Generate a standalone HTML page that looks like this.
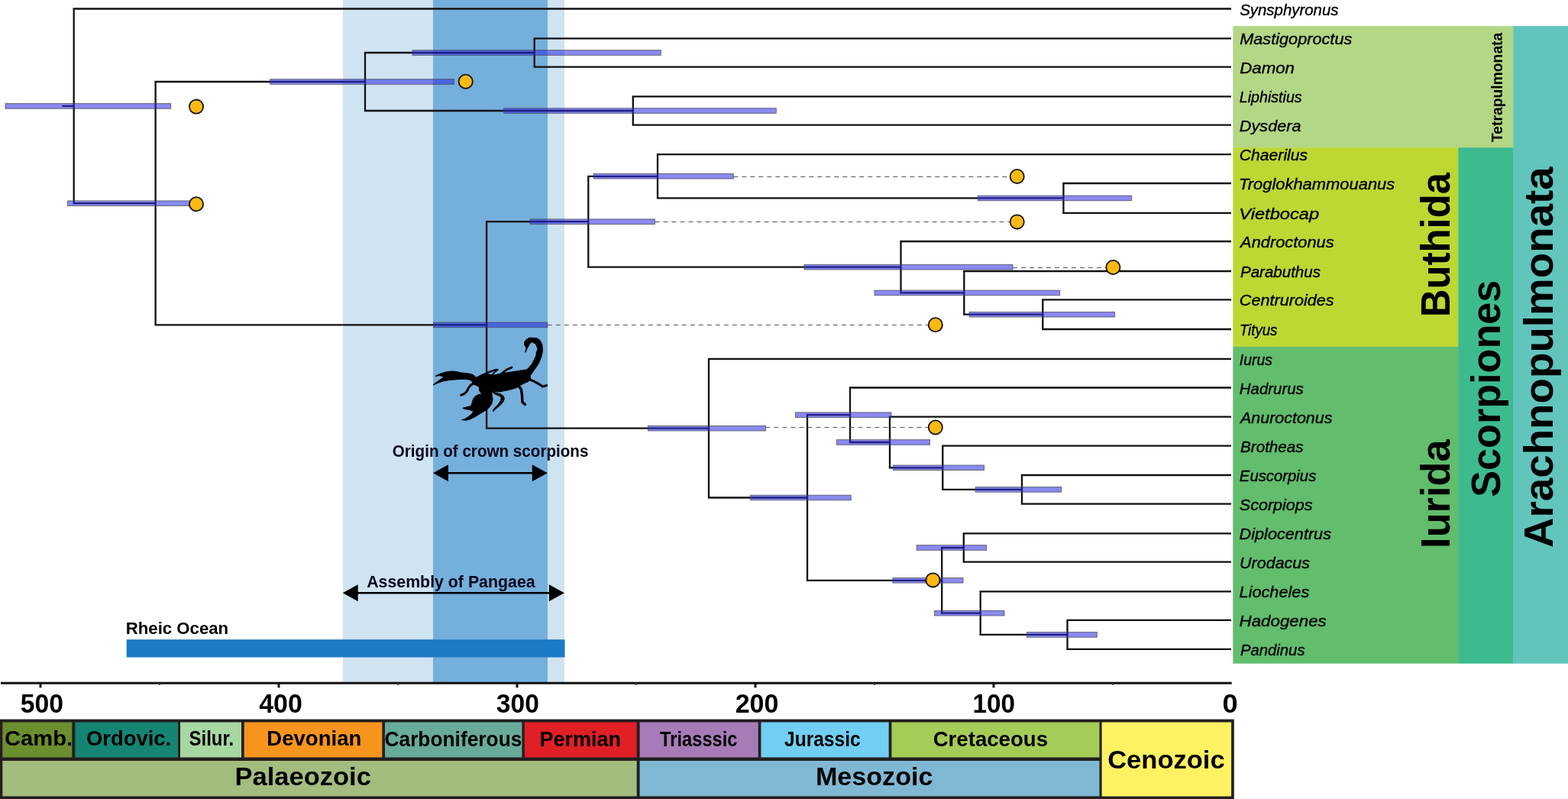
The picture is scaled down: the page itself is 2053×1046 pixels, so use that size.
<!DOCTYPE html><html><head><meta charset="utf-8"><title>Scorpion phylogeny</title><style>html,body{margin:0;padding:0;background:#fff;}body{width:2053px;height:1046px;overflow:hidden;}svg{display:block;}</style></head><body><svg width="2053" height="1046" viewBox="0 0 2053 1046"><rect x="449" y="0" width="290" height="893" fill="#cfe3f1"/><rect x="567" y="0" width="150" height="893" fill="#75afdc"/><rect x="1614.3" y="34.1" width="367.5" height="159.6" fill="#b3d784"/><rect x="1614.3" y="193.2" width="295.6" height="261.2" fill="#bed733"/><rect x="1614.3" y="453.9" width="295.6" height="414.8" fill="#62bd6d"/><rect x="1909.4" y="193.2" width="72.3" height="675.5" fill="#3dbb8f"/><rect x="1981.2" y="34.1" width="71.8" height="834.6" fill="#61c5bc"/><rect x="165.7" y="837.2" width="573.8" height="23.3" fill="#1b7bc7"/><path d="M96.7,11.5V266.2M95.5,11.5H1612.0M95.5,266.2H203.6M203.6,107.0V425.4M202.4,107.0H478.0M202.4,425.4H637.1M478.0,69.0V145.0M476.9,69.0H699.7M476.9,145.0H828.8M699.7,50.3V87.7M698.6,50.3H1612.0M698.6,87.7H1612.0M828.8,126.3V163.7M827.6,126.3H1612.0M827.6,163.7H1612.0M637.1,290.2V560.7M636.0,290.2H770.3M636.0,560.7H928.0M770.3,230.8V349.7M769.1,230.8H861.0M769.1,349.7H1179.5M861.0,202.1V259.4M859.9,202.1H1612.0M859.9,259.4H1392.4M1392.4,240.0V278.8M1391.2,240.0H1612.0M1391.2,278.8H1612.0M1179.5,316.0V383.4M1178.3,316.0H1612.0M1178.3,383.4H1262.3M1262.3,355.0V411.7M1261.1,355.0H1612.0M1261.1,411.7H1365.3M1365.3,392.4V431.0M1364.1,392.4H1612.0M1364.1,431.0H1612.0M928.0,469.8V651.5M926.9,469.8H1612.0M926.9,651.5H1057.0M1057.0,543.2V759.8M1055.8,543.2H1113.0M1055.8,759.8H1233.2M1113.0,507.5V579.0M1111.8,507.5H1612.0M1111.8,579.0H1165.0M1165.0,545.7V612.3M1163.8,545.7H1612.0M1163.8,612.3H1234.3M1234.3,583.7V640.9M1233.1,583.7H1612.0M1233.1,640.9H1338.0M1338.0,622.0V659.7M1336.8,622.0H1612.0M1336.8,659.7H1612.0M1233.2,717.0V802.6M1232.0,717.0H1261.8M1232.0,802.6H1283.7M1261.8,698.3V735.6M1260.6,698.3H1612.0M1260.6,735.6H1612.0M1283.7,774.4V830.9M1282.5,774.4H1612.0M1282.5,830.9H1397.5M1397.5,811.9V849.9M1396.3,811.9H1612.0M1396.3,849.9H1612.0M81.5,138.9H96.7" stroke="#111" stroke-width="2.3" fill="none" stroke-linecap="butt"/><line x1="960.3" y1="231.5" x2="1331.7" y2="231.5" stroke="#555" stroke-width="1" stroke-dasharray="6 5"/><line x1="857.5" y1="290.5" x2="1331.7" y2="290.5" stroke="#555" stroke-width="1" stroke-dasharray="6 5"/><line x1="1326.0" y1="350.5" x2="1457.4" y2="350.5" stroke="#555" stroke-width="1" stroke-dasharray="6 5"/><line x1="716.8" y1="425.5" x2="1224.8" y2="425.5" stroke="#555" stroke-width="1" stroke-dasharray="6 5"/><line x1="1002.4" y1="559.5" x2="1224.8" y2="559.5" stroke="#555" stroke-width="1" stroke-dasharray="6 5"/><rect x="7.0" y="135.6" width="216.6" height="6.6" fill="rgba(40,40,225,0.55)" stroke="rgba(70,70,80,0.8)" stroke-width="0.9"/><rect x="88.4" y="262.9" width="160.0" height="6.6" fill="rgba(40,40,225,0.55)" stroke="rgba(70,70,80,0.8)" stroke-width="0.9"/><rect x="353.6" y="103.7" width="241.0" height="6.6" fill="rgba(40,40,225,0.55)" stroke="rgba(70,70,80,0.8)" stroke-width="0.9"/><rect x="540.0" y="65.7" width="325.3" height="6.6" fill="rgba(40,40,225,0.55)" stroke="rgba(70,70,80,0.8)" stroke-width="0.9"/><rect x="659.5" y="141.7" width="356.8" height="6.6" fill="rgba(40,40,225,0.55)" stroke="rgba(70,70,80,0.8)" stroke-width="0.9"/><rect x="567.5" y="422.1" width="149.3" height="6.6" fill="rgba(40,40,225,0.55)" stroke="rgba(70,70,80,0.8)" stroke-width="0.9"/><rect x="694.1" y="286.9" width="163.4" height="6.6" fill="rgba(40,40,225,0.55)" stroke="rgba(70,70,80,0.8)" stroke-width="0.9"/><rect x="777.2" y="227.4" width="183.1" height="6.6" fill="rgba(40,40,225,0.55)" stroke="rgba(70,70,80,0.8)" stroke-width="0.9"/><rect x="1280.3" y="256.1" width="201.4" height="6.6" fill="rgba(40,40,225,0.55)" stroke="rgba(70,70,80,0.8)" stroke-width="0.9"/><rect x="1053.0" y="346.4" width="273.0" height="6.6" fill="rgba(40,40,225,0.55)" stroke="rgba(70,70,80,0.8)" stroke-width="0.9"/><rect x="1145.0" y="380.1" width="242.7" height="6.6" fill="rgba(40,40,225,0.55)" stroke="rgba(70,70,80,0.8)" stroke-width="0.9"/><rect x="1269.0" y="408.4" width="190.6" height="6.6" fill="rgba(40,40,225,0.55)" stroke="rgba(70,70,80,0.8)" stroke-width="0.9"/><rect x="848.3" y="557.4" width="154.1" height="6.6" fill="rgba(40,40,225,0.55)" stroke="rgba(70,70,80,0.8)" stroke-width="0.9"/><rect x="982.3" y="648.2" width="131.9" height="6.6" fill="rgba(40,40,225,0.55)" stroke="rgba(70,70,80,0.8)" stroke-width="0.9"/><rect x="1041.4" y="539.9" width="125.6" height="6.6" fill="rgba(40,40,225,0.55)" stroke="rgba(70,70,80,0.8)" stroke-width="0.9"/><rect x="1095.5" y="575.7" width="122.0" height="6.6" fill="rgba(40,40,225,0.55)" stroke="rgba(70,70,80,0.8)" stroke-width="0.9"/><rect x="1169.3" y="609.0" width="119.3" height="6.6" fill="rgba(40,40,225,0.55)" stroke="rgba(70,70,80,0.8)" stroke-width="0.9"/><rect x="1277.2" y="637.6" width="112.6" height="6.6" fill="rgba(40,40,225,0.55)" stroke="rgba(70,70,80,0.8)" stroke-width="0.9"/><rect x="1168.9" y="756.5" width="92.1" height="6.6" fill="rgba(40,40,225,0.55)" stroke="rgba(70,70,80,0.8)" stroke-width="0.9"/><rect x="1200.1" y="713.7" width="91.5" height="6.6" fill="rgba(40,40,225,0.55)" stroke="rgba(70,70,80,0.8)" stroke-width="0.9"/><rect x="1223.5" y="799.4" width="91.5" height="6.6" fill="rgba(40,40,225,0.55)" stroke="rgba(70,70,80,0.8)" stroke-width="0.9"/><rect x="1344.4" y="827.6" width="91.9" height="6.6" fill="rgba(40,40,225,0.55)" stroke="rgba(70,70,80,0.8)" stroke-width="0.9"/><circle cx="257.0" cy="139.6" r="9.1" fill="#fdb913" stroke="#111" stroke-width="1.8"/><circle cx="257.0" cy="267.2" r="9.1" fill="#fdb913" stroke="#111" stroke-width="1.8"/><circle cx="609.7" cy="106.7" r="9.1" fill="#fdb913" stroke="#111" stroke-width="1.8"/><circle cx="1331.7" cy="231.0" r="9.1" fill="#fdb913" stroke="#111" stroke-width="1.8"/><circle cx="1331.7" cy="290.4" r="9.1" fill="#fdb913" stroke="#111" stroke-width="1.8"/><circle cx="1457.4" cy="350.0" r="9.1" fill="#fdb913" stroke="#111" stroke-width="1.8"/><circle cx="1224.8" cy="425.3" r="9.1" fill="#fdb913" stroke="#111" stroke-width="1.8"/><circle cx="1224.8" cy="559.5" r="9.1" fill="#fdb913" stroke="#111" stroke-width="1.8"/><circle cx="1221.5" cy="759.4" r="9.1" fill="#fdb913" stroke="#111" stroke-width="1.8"/><path d="M1,894.35H1612.7" stroke="#111" stroke-width="3.0" fill="none"/><path d="M53.0,894V900.3M365.0,894V900.3M677.0,894V900.3M989.0,894V900.3M1301.0,894V900.3" stroke="#111" stroke-width="3" fill="none"/><path d="M209.0,894V897M521.0,894V897M833.0,894V897M1145.0,894V897M1457.0,894V897" stroke="#333" stroke-width="1.6" fill="none"/><rect x="0" y="941.6" width="1615.8" height="104.4" fill="#231f20"/><rect x="3.3" y="945.5" width="91.0" height="46.0" fill="#6b8e2e"/><rect x="98.3" y="945.5" width="134.7" height="46.0" fill="#158472"/><rect x="236" y="945.5" width="80.0" height="46.0" fill="#a7d7a2"/><rect x="319.7" y="945.5" width="180.6" height="46.0" fill="#f7941e"/><rect x="504" y="945.5" width="179.4" height="46.0" fill="#68ab9b"/><rect x="686.8" y="945.5" width="146.9" height="46.0" fill="#e11f27"/><rect x="837.6" y="945.5" width="155.1" height="46.0" fill="#a77bb7"/><rect x="996.4" y="945.5" width="167.3" height="46.0" fill="#72cff3"/><rect x="1167.4" y="945.5" width="272.1" height="46.0" fill="#a5cc57"/><rect x="3.3" y="996.0" width="830.4" height="46.4" fill="#a3bd7e"/><rect x="837.6" y="996.0" width="601.9" height="46.4" fill="#80b8d3"/><rect x="1442.6" y="945.5" width="169.5" height="97.0" fill="#fff262"/><path d="M582,619.3H701.8" stroke="#000" stroke-width="2.6"/><path d="M567,619.3L587,608.3V630.3Z M716.8,619.3L696.8,608.3V630.3Z" fill="#000"/><path d="M463.7,776.2H723.9" stroke="#000" stroke-width="2.6"/><path d="M448.7,776.2L468.7,765.2V787.2Z M738.9,776.2L718.9,765.2V787.2Z" fill="#000"/><text x="1623.19" y="19.50" font-family="Liberation Sans" font-size="19.8" font-style="italic" textLength="129.33" lengthAdjust="spacingAndGlyphs" fill="#000" stroke="#000" stroke-width="0.35">Synsphyronus</text><text x="1623.19" y="58.30" font-family="Liberation Sans" font-size="19.8" font-style="italic" textLength="147.13" lengthAdjust="spacingAndGlyphs" fill="#000" stroke="#000" stroke-width="0.35">Mastigoproctus</text><text x="1623.17" y="95.70" font-family="Liberation Sans" font-size="19.8" font-style="italic" textLength="71.85" lengthAdjust="spacingAndGlyphs" fill="#000" stroke="#000" stroke-width="0.35">Damon</text><text x="1622.87" y="134.30" font-family="Liberation Sans" font-size="19.8" font-style="italic" textLength="81.76" lengthAdjust="spacingAndGlyphs" fill="#000" stroke="#000" stroke-width="0.35">Liphistius</text><text x="1622.88" y="171.70" font-family="Liberation Sans" font-size="19.8" font-style="italic" textLength="80.56" lengthAdjust="spacingAndGlyphs" fill="#000" stroke="#000" stroke-width="0.35">Dysdera</text><text x="1622.87" y="210.10" font-family="Liberation Sans" font-size="19.8" font-style="italic" textLength="89.24" lengthAdjust="spacingAndGlyphs" fill="#000" stroke="#000" stroke-width="0.35">Chaerilus</text><text x="1621.97" y="248.00" font-family="Liberation Sans" font-size="19.8" font-style="italic" textLength="204.26" lengthAdjust="spacingAndGlyphs" fill="#000" stroke="#000" stroke-width="0.35">Troglokhammouanus</text><text x="1622.39" y="286.80" font-family="Liberation Sans" font-size="19.8" font-style="italic" textLength="104.70" lengthAdjust="spacingAndGlyphs" fill="#000" stroke="#000" stroke-width="0.35">Vietbocap</text><text x="1624.08" y="324.00" font-family="Liberation Sans" font-size="19.8" font-style="italic" textLength="122.53" lengthAdjust="spacingAndGlyphs" fill="#000" stroke="#000" stroke-width="0.35">Androctonus</text><text x="1623.98" y="363.00" font-family="Liberation Sans" font-size="19.8" font-style="italic" textLength="104.95" lengthAdjust="spacingAndGlyphs" fill="#000" stroke="#000" stroke-width="0.35">Parabuthus</text><text x="1622.88" y="400.40" font-family="Liberation Sans" font-size="19.8" font-style="italic" textLength="123.74" lengthAdjust="spacingAndGlyphs" fill="#000" stroke="#000" stroke-width="0.35">Centruroides</text><text x="1622.90" y="439.00" font-family="Liberation Sans" font-size="19.8" font-style="italic" textLength="49.55" lengthAdjust="spacingAndGlyphs" fill="#000" stroke="#000" stroke-width="0.35">Tityus</text><text x="1622.85" y="477.80" font-family="Liberation Sans" font-size="19.8" font-style="italic" textLength="43.12" lengthAdjust="spacingAndGlyphs" fill="#000" stroke="#000" stroke-width="0.35">Iurus</text><text x="1622.87" y="515.50" font-family="Liberation Sans" font-size="19.8" font-style="italic" textLength="83.85" lengthAdjust="spacingAndGlyphs" fill="#000" stroke="#000" stroke-width="0.35">Hadrurus</text><text x="1624.08" y="553.70" font-family="Liberation Sans" font-size="19.8" font-style="italic" textLength="120.33" lengthAdjust="spacingAndGlyphs" fill="#000" stroke="#000" stroke-width="0.35">Anuroctonus</text><text x="1623.98" y="591.70" font-family="Liberation Sans" font-size="19.8" font-style="italic" textLength="82.74" lengthAdjust="spacingAndGlyphs" fill="#000" stroke="#000" stroke-width="0.35">Brotheas</text><text x="1622.88" y="630.00" font-family="Liberation Sans" font-size="19.8" font-style="italic" textLength="100.43" lengthAdjust="spacingAndGlyphs" fill="#000" stroke="#000" stroke-width="0.35">Euscorpius</text><text x="1622.77" y="667.70" font-family="Liberation Sans" font-size="19.8" font-style="italic" textLength="95.86" lengthAdjust="spacingAndGlyphs" fill="#000" stroke="#000" stroke-width="0.35">Scorpiops</text><text x="1622.59" y="706.30" font-family="Liberation Sans" font-size="19.8" font-style="italic" textLength="120.42" lengthAdjust="spacingAndGlyphs" fill="#000" stroke="#000" stroke-width="0.35">Diplocentrus</text><text x="1623.07" y="743.60" font-family="Liberation Sans" font-size="19.8" font-style="italic" textLength="91.97" lengthAdjust="spacingAndGlyphs" fill="#000" stroke="#000" stroke-width="0.35">Urodacus</text><text x="1622.58" y="782.40" font-family="Liberation Sans" font-size="19.8" font-style="italic" textLength="91.65" lengthAdjust="spacingAndGlyphs" fill="#000" stroke="#000" stroke-width="0.35">Liocheles</text><text x="1622.58" y="819.90" font-family="Liberation Sans" font-size="19.8" font-style="italic" textLength="114.13" lengthAdjust="spacingAndGlyphs" fill="#000" stroke="#000" stroke-width="0.35">Hadogenes</text><text x="1623.98" y="857.90" font-family="Liberation Sans" font-size="19.8" font-style="italic" textLength="84.57" lengthAdjust="spacingAndGlyphs" fill="#000" stroke="#000" stroke-width="0.35">Pandinus</text><text x="26.65" y="932.60" font-family="Liberation Sans" font-size="34.2" font-weight="bold" textLength="56.25" lengthAdjust="spacingAndGlyphs" fill="#000" >500</text><text x="339.16" y="932.60" font-family="Liberation Sans" font-size="34.2" font-weight="bold" textLength="56.59" lengthAdjust="spacingAndGlyphs" fill="#000" >400</text><text x="649.87" y="932.60" font-family="Liberation Sans" font-size="34.2" font-weight="bold" textLength="56.00" lengthAdjust="spacingAndGlyphs" fill="#000" >300</text><text x="962.64" y="932.60" font-family="Liberation Sans" font-size="34.2" font-weight="bold" textLength="56.72" lengthAdjust="spacingAndGlyphs" fill="#000" >200</text><text x="1273.55" y="932.60" font-family="Liberation Sans" font-size="34.2" font-weight="bold" textLength="55.51" lengthAdjust="spacingAndGlyphs" fill="#000" >100</text><text x="1600.48" y="932.60" font-family="Liberation Sans" font-size="34.2" font-weight="bold" textLength="20.25" lengthAdjust="spacingAndGlyphs" fill="#000" >0</text><text x="5.96" y="975.70" font-family="Liberation Sans" font-size="28.3" font-weight="bold" textLength="89.11" lengthAdjust="spacingAndGlyphs" fill="#000" >Camb.</text><text x="112.97" y="975.70" font-family="Liberation Sans" font-size="28.3" font-weight="bold" textLength="111.28" lengthAdjust="spacingAndGlyphs" fill="#000" >Ordovic.</text><text x="247.56" y="975.70" font-family="Liberation Sans" font-size="28.3" font-weight="bold" textLength="58.62" lengthAdjust="spacingAndGlyphs" fill="#000" >Silur.</text><text x="349.32" y="975.70" font-family="Liberation Sans" font-size="28.3" font-weight="bold" textLength="124.05" lengthAdjust="spacingAndGlyphs" fill="#000" >Devonian</text><text x="503.48" y="977.00" font-family="Liberation Sans" font-size="28.3" font-weight="bold" textLength="179.94" lengthAdjust="spacingAndGlyphs" fill="#000" >Carboniferous</text><text x="706.53" y="977.00" font-family="Liberation Sans" font-size="28.3" font-weight="bold" textLength="106.55" lengthAdjust="spacingAndGlyphs" fill="#000" >Permian</text><text x="864.09" y="977.00" font-family="Liberation Sans" font-size="28.3" font-weight="bold" textLength="101.44" lengthAdjust="spacingAndGlyphs" fill="#000" >Triasssic</text><text x="1026.99" y="977.00" font-family="Liberation Sans" font-size="28.3" font-weight="bold" textLength="99.65" lengthAdjust="spacingAndGlyphs" fill="#000" >Jurassic</text><text x="1221.68" y="977.00" font-family="Liberation Sans" font-size="28.3" font-weight="bold" textLength="150.33" lengthAdjust="spacingAndGlyphs" fill="#000" >Cretaceous</text><text x="307.44" y="1028.20" font-family="Liberation Sans" font-size="34.0" font-weight="bold" textLength="178.49" lengthAdjust="spacingAndGlyphs" fill="#000" >Palaeozoic</text><text x="1067.95" y="1028.00" font-family="Liberation Sans" font-size="34.0" font-weight="bold" textLength="153.50" lengthAdjust="spacingAndGlyphs" fill="#000" >Mesozoic</text><text x="1450.16" y="1006.20" font-family="Liberation Sans" font-size="34.0" font-weight="bold" textLength="153.47" lengthAdjust="spacingAndGlyphs" fill="#000" >Cenozoic</text><text x="513.79" y="598.20" font-family="Liberation Sans" font-size="21.8" font-weight="bold" textLength="256.61" lengthAdjust="spacingAndGlyphs" fill="#05051a" >Origin of crown scorpions</text><text x="480.19" y="769.30" font-family="Liberation Sans" font-size="21.8" font-weight="bold" textLength="220.42" lengthAdjust="spacingAndGlyphs" fill="#05051a" >Assembly of Pangaea</text><text x="164.76" y="830.30" font-family="Liberation Sans" font-size="21.8" font-weight="bold" textLength="134.40" lengthAdjust="spacingAndGlyphs" fill="#000" >Rheic Ocean</text><text transform="translate(1897.70,415.16) rotate(-90)" x="0" y="0" font-family="Liberation Sans" font-size="54" font-weight="bold" textLength="189.27" lengthAdjust="spacingAndGlyphs" fill="#000" >Buthida</text><text transform="translate(1897.70,717.88) rotate(-90)" x="0" y="0" font-family="Liberation Sans" font-size="54" font-weight="bold" textLength="142.47" lengthAdjust="spacingAndGlyphs" fill="#000" >Iurida</text><text transform="translate(1963.60,650.73) rotate(-90)" x="0" y="0" font-family="Liberation Sans" font-size="54" font-weight="bold" textLength="283.97" lengthAdjust="spacingAndGlyphs" fill="#000" >Scorpiones</text><text transform="translate(2033.30,717.11) rotate(-90)" x="0" y="0" font-family="Liberation Sans" font-size="53" font-weight="bold" textLength="498.91" lengthAdjust="spacingAndGlyphs" fill="#000" >Arachnopulmonata</text><text transform="translate(1967.40,186.11) rotate(-90)" x="0" y="0" font-family="Liberation Sans" font-size="20" font-weight="bold" textLength="143.41" lengthAdjust="spacingAndGlyphs" fill="#000" >Tetrapulmonata</text><path d="M617.9,498.7 L621.0,495.8 L623.6,494.9 L631.7,491.0 L638.0,489.5 L645.6,491.3 L653.2,489.6 L660.4,488.4 L667.6,487.2 L677.1,485.8 L686.7,484.3 L690.5,483.9 L694.4,492.5 L694.4,495.8 L691.5,499.6 L686.7,501.6 L681.0,504.4 L677.1,507.3 L667.6,510.2 L658.0,512.1 L655.6,512.8 L643.7,513.0 L635.0,513.0 L630.8,512.0 L627.0,506.3 L623.6,504.4 L620.7,503.5 L618.5,501.0 Z M692.8,480.9 L696.6,476.3 L699.7,470.2 L701.9,465.6 L702.3,461.0 L704.2,457.2 L703.1,454.1 L701.2,449.9 L695.8,447.6 L693.5,450.3 L690.5,455.6 L687.8,461.4 L689.0,454.9 L686.7,451.8 L686.7,447.6 L689.0,444.6 L692.8,442.3 L698.1,442.3 L703.5,443.0 L707.3,445.7 L710.0,451.8 L710.4,459.5 L708.8,467.1 L705.8,474.8 L701.9,480.9 L698.1,486.2 L695.1,490.8 L692.5,494.0 L686.5,487.0 Z M570.0,492.5 L575.8,489.4 L583.4,487.1 L591.1,486.0 L597.2,486.4 L603.3,487.9 L609.4,488.5 L615.5,489.4 L620.1,490.9 L623.2,494.0 L624.0,497.0 L621.0,499.0 L617.1,498.2 L614.0,496.9 L607.9,496.3 L601.8,496.5 L595.7,496.9 L588.8,497.5 L581.1,498.7 L573.5,501.3 L567.0,504.0 L571.9,500.1 L577.3,496.3 L581.1,492.9 L575.0,491.6 Z M640.9,514.8 L643.9,517.8 L645.1,522.4 L643.9,528.5 L640.1,533.9 L634.8,537.7 L628.7,541.5 L622.5,545.4 L616.4,548.4 L610.3,550.3 L604.6,549.6 L608.0,548.8 L612.6,546.1 L617.2,542.3 L620.2,538.5 L614.9,536.6 L608.8,535.4 L605.7,534.3 L610.3,533.1 L616.4,531.6 L618.0,527.8 L619.5,522.4 L622.5,518.6 L627.1,516.3 L631.0,516.3 Z M627.0,506.3 L643.7,513.0 L644.6,520.0 L640.9,516.0 L631.0,516.3 L628.0,512.0 Z M644.7,513.2 L651.6,514.8 L656.2,516.3 L659.2,518.6 L660.4,521.7 L659.2,525.5 L655.4,530.1 L650.8,533.9 L647.8,536.2 L645.9,538.9 L645.5,537.0 L647.8,533.9 L652.4,529.3 L655.4,524.7 L656.2,520.9 L654.7,518.6 L648.5,516.3 Z" fill="#000" fill-rule="nonzero" stroke="#000" stroke-width="1.0" stroke-linejoin="round"/><g fill="none" stroke="#000" stroke-linecap="round" stroke-linejoin="round"><path d="M620.2,501.8 L616.4,504.1 L613.4,507.9 L611.1,512.5 L608.0,515.5 L603.8,517.1" stroke-width="3.0"/><path d="M693.5,497.0 L698.1,498.7 L705.0,502.3 L710.4,506.1 L715.7,504.6" stroke-width="3.0"/><path d="M679.5,505.5 L682.5,510.0 L683.5,517.5 L684.0,526.5 L687.5,529.5" stroke-width="3.4"/><path d="M623.6,494.9 L631.0,491.0 L638.9,487.7 L648.5,484.2 L651.5,484.0" stroke-width="2.3"/><path d="M644.6,490.5 L648.0,487.0 L651.5,484.0" stroke-width="1.8"/><path d="M656.6,489.1 L662.8,484.3 L670.0,481.0" stroke-width="2.8"/></g></svg></body></html>
